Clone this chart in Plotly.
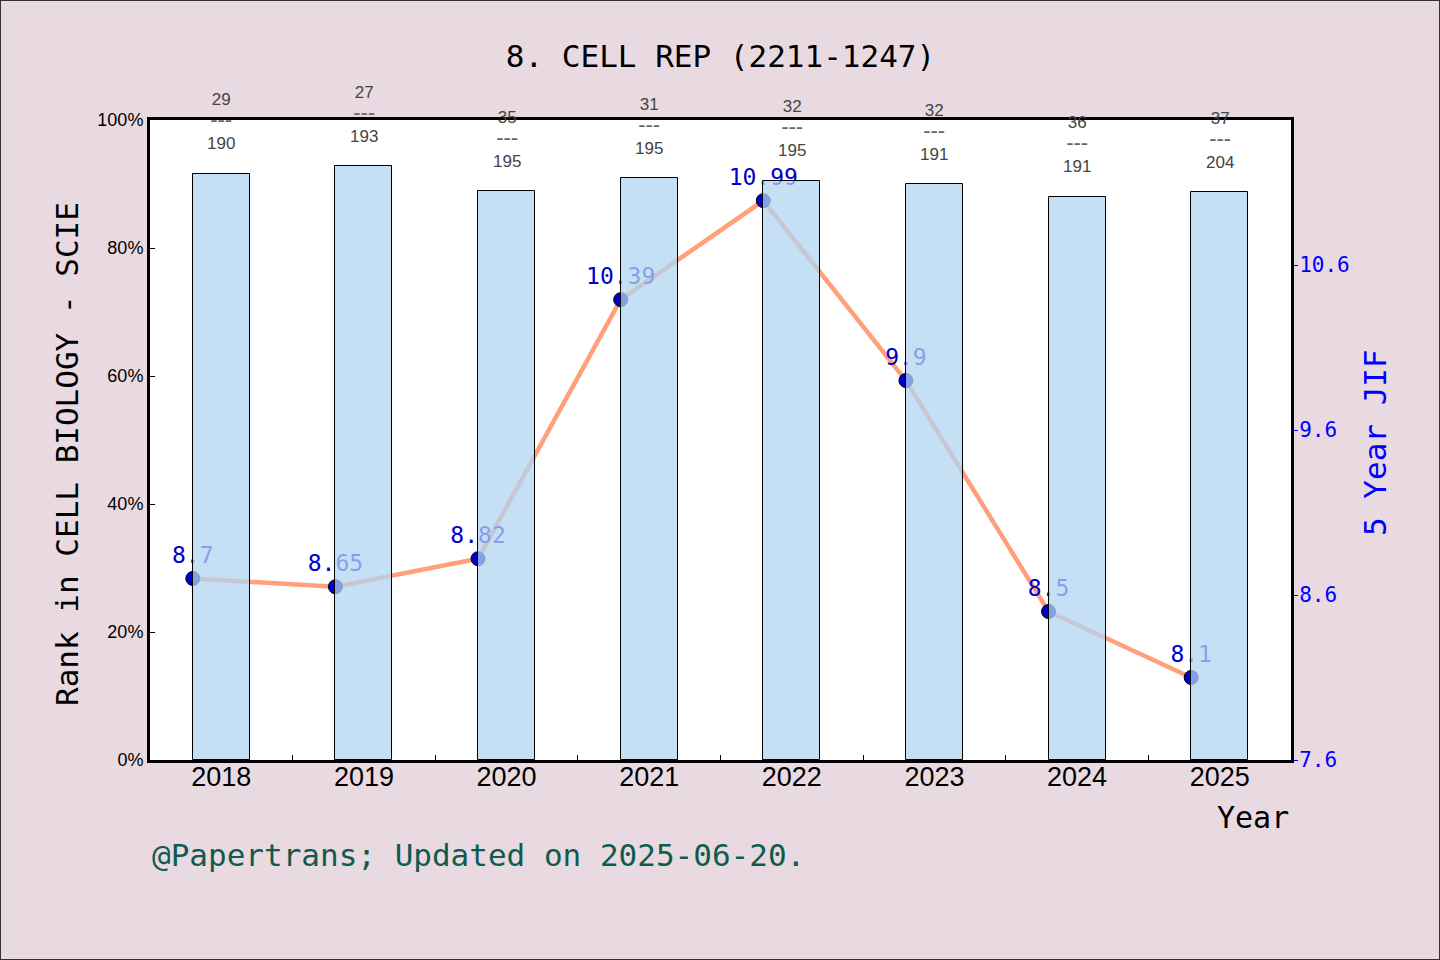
import plotly.graph_objects as go

# ---------------- data ----------------
years = ["2018", "2019", "2020", "2021", "2022", "2023", "2024", "2025"]
rank_pct = [91.6, 92.8, 88.9, 90.9, 90.5, 90.0, 88.0, 88.75]
jif5 = [8.7, 8.65, 8.82, 10.39, 10.99, 9.9, 8.5, 8.1]
rank_num = [29, 27, 35, 31, 32, 32, 36, 37]
rank_total = [190, 193, 195, 195, 195, 191, 191, 204]
left_ticks = [0, 20, 40, 60, 80, 100]
right_ticks = [7.6, 8.6, 9.6, 10.6]

# ---------------- style ----------------
W, H = 1440, 960
ML, MR, MT, MB = 150, 149, 120, 200
PW, PH = W - ML - MR, H - MT - MB
BAR_W = 0.4
MONO = "DejaVu Sans Mono"
SANS = "Liberation Sans, Arial"
NARROW = "Liberation Sans Narrow, Arial Narrow, Liberation Sans"
BG = "#E9DAE2"

idx = list(range(len(years)))
line_x = [i - BAR_W / 2 for i in idx]

fig = go.Figure()

# line (primary y axis, shown on the right) -- drawn beneath the bars
fig.add_trace(go.Scatter(
    x=line_x, y=jif5, yaxis="y", mode="lines+markers+text",
    line=dict(color="#FFA07A", width=4.5),
    marker=dict(color="#0000CD", size=14, line=dict(color="black", width=1)),
    text=[f"{v:g}" for v in jif5], textposition="top center",
    textfont=dict(family=MONO, size=23, color="#0000CD"),
    cliponaxis=False, showlegend=False, hoverinfo="skip",
))

# bars (secondary y axis, shown on the left) -- overlay drawn on top
fig.add_trace(go.Bar(
    x=idx, y=rank_pct, yaxis="y2", width=BAR_W,
    marker=dict(color="rgba(178,214,242,0.75)", line=dict(color="black", width=1)),
    showlegend=False, hoverinfo="skip",
))

annotations = []
for i, v in enumerate(rank_pct):
    annotations.append(dict(
        x=i, y=v, xref="x", yref="y2",
        text=(f"{rank_num[i]}<br><span style='font-size:22px;color:#666666'>---</span>"
              f"<br>{rank_total[i]}"),
        showarrow=False, yanchor="middle", yshift=52, align="center",
        font=dict(family=NARROW, size=17, color="#444444")))

# axis titles and footer
annotations.append(dict(x=(67 - ML) / PW, y=(MT + PH - 454) / PH, xref="paper", yref="paper",
                        text="Rank in CELL BIOLOGY - SCIE", textangle=-90, showarrow=False,
                        xanchor="center", yanchor="middle",
                        font=dict(family=MONO, size=31, color="black")))
annotations.append(dict(x=(1375 - ML) / PW, y=(MT + PH - 443) / PH, xref="paper", yref="paper",
                        text="5 Year JIF", textangle=-90, showarrow=False,
                        xanchor="center", yanchor="middle",
                        font=dict(family=MONO, size=31, color="#0000FF")))
annotations.append(dict(x=1, y=(MT + PH - 817) / PH, xref="paper", yref="paper",
                        text="Year", showarrow=False, xanchor="right", yanchor="middle",
                        font=dict(family=MONO, size=30, color="black")))
annotations.append(dict(x=0, y=(MT + PH - 855) / PH, xref="paper", yref="paper",
                        text="@Papertrans; Updated on 2025-06-20.", showarrow=False,
                        xanchor="left", yanchor="middle",
                        font=dict(family=MONO, size=31, color="#105A4E")))

shapes = [dict(type="rect", xref="paper", yref="paper",
               x0=-ML / PW, x1=1 + MR / PW, y0=-MB / PH, y1=1 + MT / PH,
               line=dict(color="#333333", width=2), fillcolor="rgba(0,0,0,0)", layer="above")]

fig.update_layout(
    width=W, height=H, autosize=False,
    margin=dict(l=ML, r=MR, t=MT, b=MB, pad=0),
    paper_bgcolor=BG, plot_bgcolor="white",
    title=dict(text="8. CELL REP (2211-1247)", x=0.5, xref="paper", xanchor="center",
               y=1 - 56 / H, yref="container", yanchor="middle",
               font=dict(family=MONO, size=31, color="black")),
    xaxis=dict(range=[-0.5, len(years) - 0.5], tickmode="array", tickvals=idx, ticktext=years,
               ticks="", showgrid=False, zeroline=False, ticklabelstandoff=-9,
               showline=True, linecolor="black", linewidth=3, mirror=True,
               tickfont=dict(family=SANS, size=27, color="black"),
               minor=dict(tickmode="array", tickvals=[i + 0.5 for i in idx[:-1]],
                          ticks="inside", ticklen=5, tickcolor="black", tickwidth=1)),
    yaxis=dict(side="right", range=[right_ticks[0], right_ticks[0] + PH / 165.0],
               tickmode="array", tickvals=right_ticks,
               ticktext=[f"{v:.1f}" for v in right_ticks],
               ticks="outside", ticklen=4, tickcolor="#0000FF", ticklabelstandoff=-3,
               tickfont=dict(family=MONO, size=21, color="#0000FF"),
               showgrid=False, zeroline=False,
               showline=True, linecolor="black", linewidth=3),
    yaxis2=dict(overlaying="y", side="left", range=[0, 100],
                tickmode="array", tickvals=left_ticks,
                ticktext=[f"{v}%" for v in left_ticks],
                ticks="inside", ticklen=5, tickcolor="black",
                tickfont=dict(family=SANS, size=18, color="black"),
                showgrid=False, zeroline=False,
                showline=True, linecolor="black", linewidth=3),
    annotations=annotations, shapes=shapes,
    bargap=0,
)

fig.write_html("out.html")
